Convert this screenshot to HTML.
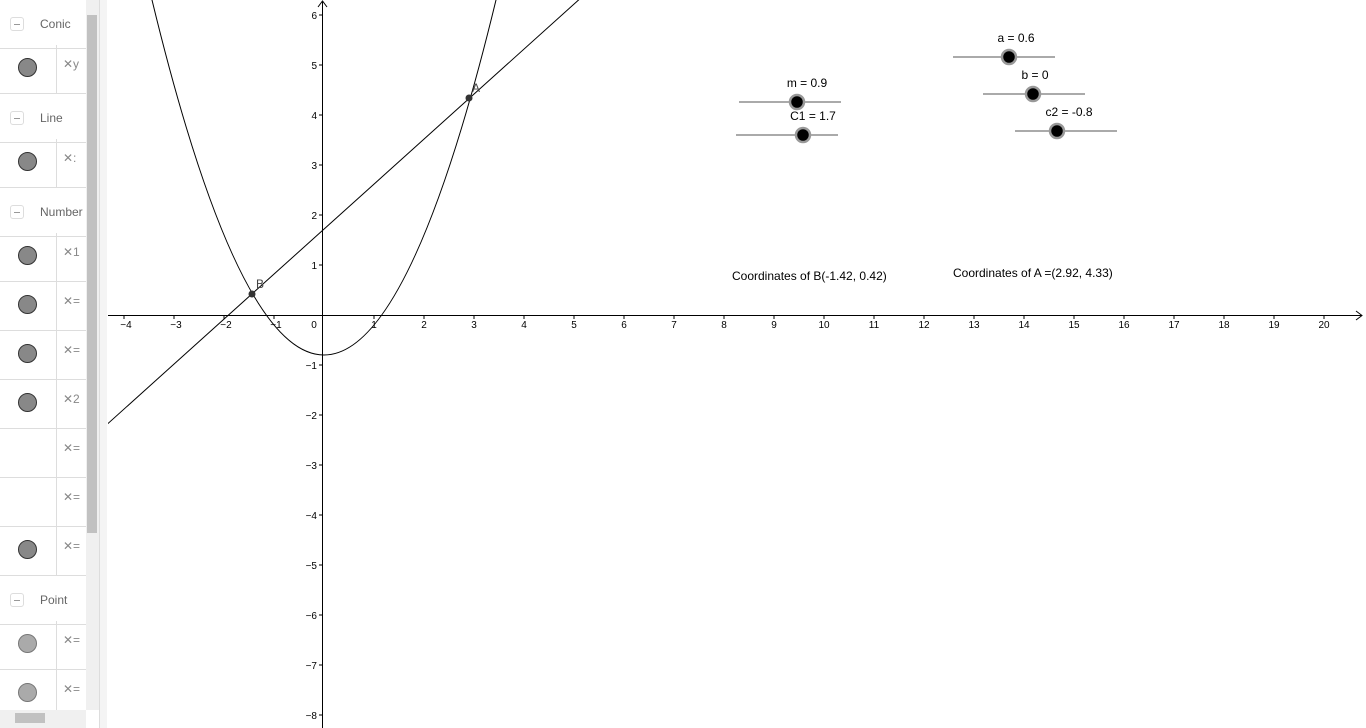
<!DOCTYPE html>
<html><head><meta charset="utf-8"><style>
body{margin:0;width:1366px;height:728px;overflow:hidden;background:#fff;font-family:"Liberation Sans",sans-serif;position:relative}
.panel{position:absolute;left:0;top:0;width:86px;height:710px;overflow:hidden}
.h{position:absolute;left:0;width:86px;height:48px;border-bottom:1px solid #ddd;font-size:12px;color:#666}
.h .mn{position:absolute;left:10px;top:17px;width:14px;height:14px;border:1px solid #ddd;border-radius:3px;box-sizing:border-box}
.h .mn:after{content:"";position:absolute;left:3px;top:6px;width:6px;height:1px;background:#999}
.h span{position:absolute;left:40px;top:17px}
.it{position:absolute;left:0;width:86px;height:48px;border-bottom:1px solid #ddd}
.it .sep{position:absolute;left:56px;top:0;width:1px;height:48px;background:#ddd}
.it .c{position:absolute;left:18px;top:13px;width:19px;height:19px;border-radius:50%;background:#888;border:1px solid #333;box-sizing:border-box}
.it .c.p{background:#aaa;border-color:#777}
.it .x{position:absolute;left:63px;top:12px;font-size:12px;color:#888}
</style></head><body>
<div class="panel">
<div class="h" style="top:0"><div class="mn"></div><span>Conic</span></div>
<div class="it" style="top:45px"><div class="c"></div><div class="sep"></div><div class="x">✕y</div></div>
<div class="h" style="top:94px"><div class="mn"></div><span>Line</span></div>
<div class="it" style="top:139px"><div class="c"></div><div class="sep"></div><div class="x">✕:</div></div>
<div class="h" style="top:188px"><div class="mn"></div><span>Number</span></div>
<div class="it" style="top:233px"><div class="c"></div><div class="sep"></div><div class="x">✕1</div></div>
<div class="it" style="top:282px"><div class="c"></div><div class="sep"></div><div class="x">✕=</div></div>
<div class="it" style="top:331px"><div class="c"></div><div class="sep"></div><div class="x">✕=</div></div>
<div class="it" style="top:380px"><div class="c"></div><div class="sep"></div><div class="x">✕2</div></div>
<div class="it" style="top:429px"><div class="sep"></div><div class="x">✕=</div></div>
<div class="it" style="top:478px"><div class="sep"></div><div class="x">✕=</div></div>
<div class="it" style="top:527px"><div class="c"></div><div class="sep"></div><div class="x">✕=</div></div>
<div class="h" style="top:576px"><div class="mn"></div><span>Point</span></div>
<div class="it" style="top:621px"><div class="c p"></div><div class="sep"></div><div class="x">✕=</div></div>
<div class="it" style="top:670px"><div class="c p"></div><div class="sep"></div><div class="x">✕=</div></div>
</div>
<div style="position:absolute;left:86px;top:0;width:13px;height:710px;background:#f0f0f0"></div>
<div style="position:absolute;left:87px;top:15px;width:10px;height:518px;background:#c1c1c1"></div>
<div style="position:absolute;left:0;top:710px;width:86px;height:18px;background:#f0f0f0"></div>
<div style="position:absolute;left:15px;top:713px;width:30px;height:10px;background:#c1c1c1"></div>
<div style="position:absolute;left:99px;top:0;width:8px;height:728px;background:#f4f4f4;border-left:1px solid #ddd;box-sizing:border-box"></div>
<svg width="1366" height="728" style="position:absolute;left:0;top:0" font-family="Liberation Sans, sans-serif">
<defs><clipPath id="cp"><rect x="108" y="0" width="1258" height="728"/></clipPath></defs>
<g clip-path="url(#cp)">
<g stroke="#000" stroke-width="1" fill="none">
<line x1="108" y1="315.5" x2="1362" y2="315.5"/>
<polyline points="1356,311 1362,315.5 1356,320"/>
<line x1="322.5" y1="2" x2="322.5" y2="728"/>
<polyline points="318,7 322.5,1 327,7"/>
<path d="M149,-12.5 Q324,722.5 499,-12.5"/>
<line x1="100" y1="430.7" x2="600" y2="-19.3"/>
</g>
<g id="xt" stroke="#000"></g>
<g font-size="10" fill="#000" text-anchor="middle">
<text x="126" y="328">−4</text><text x="176" y="328">−3</text><text x="226" y="328">−2</text><text x="276" y="328">−1</text><text x="314" y="328">0</text>
<text x="374" y="328">1</text><text x="424" y="328">2</text><text x="474" y="328">3</text><text x="524" y="328">4</text><text x="574" y="328">5</text><text x="624" y="328">6</text><text x="674" y="328">7</text><text x="724" y="328">8</text><text x="774" y="328">9</text><text x="824" y="328">10</text><text x="874" y="328">11</text><text x="924" y="328">12</text><text x="974" y="328">13</text><text x="1024" y="328">14</text><text x="1074" y="328">15</text><text x="1124" y="328">16</text><text x="1174" y="328">17</text><text x="1224" y="328">18</text><text x="1274" y="328">19</text><text x="1324" y="328">20</text>
</g>
<g font-size="10" fill="#000" text-anchor="end">
<text x="317" y="19">6</text><text x="317" y="69">5</text><text x="317" y="119">4</text><text x="317" y="169">3</text><text x="317" y="219">2</text><text x="317" y="269">1</text>
<text x="317" y="369">−1</text><text x="317" y="419">−2</text><text x="317" y="469">−3</text><text x="317" y="519">−4</text><text x="317" y="569">−5</text><text x="317" y="619">−6</text><text x="317" y="669">−7</text><text x="317" y="719">−8</text>
</g>
<g stroke="#000">
<line x1="124" y1="315" x2="124" y2="319"/><line x1="174" y1="315" x2="174" y2="319"/><line x1="224" y1="315" x2="224" y2="319"/><line x1="274" y1="315" x2="274" y2="319"/>
<line x1="374" y1="315" x2="374" y2="319"/><line x1="424" y1="315" x2="424" y2="319"/><line x1="474" y1="315" x2="474" y2="319"/><line x1="524" y1="315" x2="524" y2="319"/><line x1="574" y1="315" x2="574" y2="319"/><line x1="624" y1="315" x2="624" y2="319"/><line x1="674" y1="315" x2="674" y2="319"/><line x1="724" y1="315" x2="724" y2="319"/><line x1="774" y1="315" x2="774" y2="319"/><line x1="824" y1="315" x2="824" y2="319"/><line x1="874" y1="315" x2="874" y2="319"/><line x1="924" y1="315" x2="924" y2="319"/><line x1="974" y1="315" x2="974" y2="319"/><line x1="1024" y1="315" x2="1024" y2="319"/><line x1="1074" y1="315" x2="1074" y2="319"/><line x1="1124" y1="315" x2="1124" y2="319"/><line x1="1174" y1="315" x2="1174" y2="319"/><line x1="1224" y1="315" x2="1224" y2="319"/><line x1="1274" y1="315" x2="1274" y2="319"/><line x1="1324" y1="315" x2="1324" y2="319"/>
<line x1="319" y1="15" x2="322" y2="15"/><line x1="319" y1="65" x2="322" y2="65"/><line x1="319" y1="115" x2="322" y2="115"/><line x1="319" y1="165" x2="322" y2="165"/><line x1="319" y1="215" x2="322" y2="215"/><line x1="319" y1="265" x2="322" y2="265"/><line x1="319" y1="365" x2="322" y2="365"/><line x1="319" y1="415" x2="322" y2="415"/><line x1="319" y1="465" x2="322" y2="465"/><line x1="319" y1="515" x2="322" y2="515"/><line x1="319" y1="565" x2="322" y2="565"/><line x1="319" y1="615" x2="322" y2="615"/><line x1="319" y1="665" x2="322" y2="665"/><line x1="319" y1="715" x2="322" y2="715"/>
</g>
<circle cx="469" cy="98" r="3.5" fill="#333"/><text x="472" y="92" font-size="12" fill="#444">A</text>
<circle cx="252" cy="294" r="3.5" fill="#333"/><text x="256" y="288" font-size="12" fill="#444">B</text>
<g font-size="12" fill="#000">
<text x="732" y="280">Coordinates of B(-1.42, 0.42)</text>
<text x="953" y="277">Coordinates of A =(2.92, 4.33)</text>
</g>
<g stroke="#555" stroke-width="1">
<line x1="739" y1="102" x2="841" y2="102"/><line x1="736" y1="135" x2="838" y2="135"/>
<line x1="953" y1="57" x2="1055" y2="57"/><line x1="983" y1="94" x2="1085" y2="94"/><line x1="1015" y1="131" x2="1117" y2="131"/>
</g>
<g fill="#000" stroke="#999" stroke-width="2.5">
<circle cx="797" cy="102" r="7"/><circle cx="803" cy="135" r="7"/><circle cx="1009" cy="57" r="7"/><circle cx="1033" cy="94" r="7"/><circle cx="1057" cy="131" r="7"/>
</g>
<g font-size="12" fill="#000" text-anchor="middle">
<text x="807" y="87">m = 0.9</text><text x="813" y="120">C1 = 1.7</text>
<text x="1016" y="42">a = 0.6</text><text x="1035" y="79">b = 0</text><text x="1069" y="116">c2 = -0.8</text>
</g>
</g>
</svg>
</body></html>
